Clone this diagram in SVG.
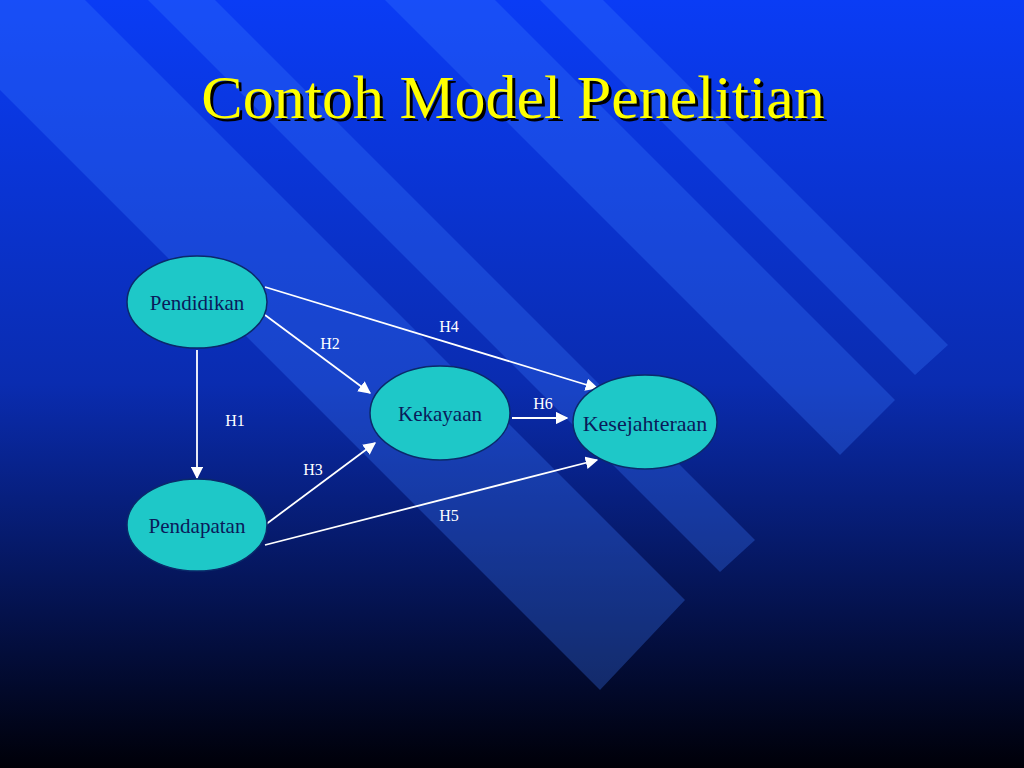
<svg xmlns="http://www.w3.org/2000/svg" width="1024" height="768" viewBox="0 0 1024 768">
<defs>
<linearGradient id="bg" x1="0" y1="0" x2="0" y2="1">
<stop offset="0" stop-color="#0a3cf5"/><stop offset="0.5" stop-color="#0a2cb0"/><stop offset="1" stop-color="#000008"/>
</linearGradient>
<marker id="ah" viewBox="0 0 10 10" refX="9" refY="5" markerWidth="7" markerHeight="7" orient="auto"><path d="M0,0 L10,5 L0,10 z" fill="#fff"/></marker>
<style>
.n ellipse{fill:#1ec8c8;stroke:#0a2a6a;stroke-width:1.5}
.n text{font-family:"Liberation Serif",serif;font-size:21px;fill:#0a1a5a;text-anchor:middle}
.c line{stroke:#fff;stroke-width:1.8;marker-end:url(#ah)}
.l{font-family:"Liberation Serif",serif;font-size:16px;fill:#fff;text-anchor:middle}
.s{fill:#3a7aff;opacity:0.3}
</style>
</defs>
<rect width="1024" height="768" fill="url(#bg)"/>
<polygon class="s" points="603,0 948,345 915,375 540,0"/>
<polygon class="s" points="495,0 895,400 840,455 385,0"/>
<polygon class="s" points="215,0 755,540 720,572 148,0"/>
<polygon class="s" points="85,0 685,600 600,690 0,90 0,0"/>
<text x="513" y="118" font-family="Liberation Serif,serif" font-size="62" fill="#ffff00" text-anchor="middle" style="text-shadow:3px 3px 0 #000">Contoh Model Penelitian</text>
<g class="c">
<line x1="197" y1="350" x2="197" y2="478"/>
<line x1="265" y1="315" x2="370" y2="393"/>
<line x1="265" y1="287" x2="597" y2="388"/>
<line x1="512" y1="418" x2="567" y2="418"/>
<line x1="265" y1="525" x2="375" y2="443"/>
<line x1="265" y1="545" x2="597" y2="460"/>
</g>
<text class="l" x="235" y="426">H1</text>
<text class="l" x="330" y="349">H2</text>
<text class="l" x="449" y="332">H4</text>
<text class="l" x="543" y="409">H6</text>
<text class="l" x="313" y="475">H3</text>
<text class="l" x="449" y="521">H5</text>
<g id="pendidikan" class="n"><ellipse cx="197" cy="302" rx="70" ry="46"/><text x="197" y="310">Pendidikan</text></g>
<g id="pendapatan" class="n"><ellipse cx="197" cy="525" rx="70" ry="46"/><text x="197" y="533">Pendapatan</text></g>
<g id="kekayaan" class="n"><ellipse cx="440" cy="413" rx="70" ry="47"/><text x="440" y="421">Kekayaan</text></g>
<g id="kesejahteraan" class="n"><ellipse cx="645" cy="422" rx="72" ry="47"/><text x="645" y="431" style="font-size:22px">Kesejahteraan</text></g>
</svg>
